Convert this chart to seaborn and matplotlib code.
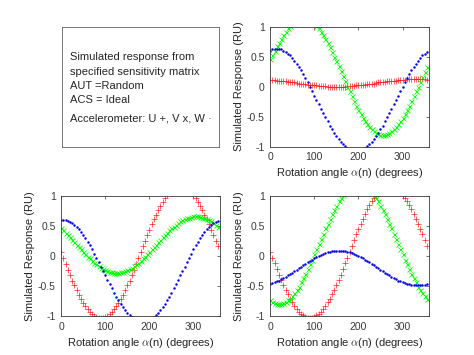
import numpy as np
import seaborn as sns
import matplotlib
matplotlib.use("Agg")
import matplotlib.pyplot as plt
from matplotlib.ticker import FormatStrFormatter

# rotation angle of each sample (degrees)
angle = np.arange(0, 360, 5)

# top right panel: U (red +), V (green x), W (blue .)
tr_u = [0.11, 0.11, 0.11, 0.10, 0.10, 0.09, 0.09, 0.09, 0.08, 0.08, 0.07, 0.07, 0.06, 0.05, 0.05, 0.04, 0.04, 0.03, 0.03, 0.03,
        0.02, 0.02, 0.01, 0.01, 0.01, 0.01, 0.00, 0.00, 0.00, 0.00,
        0.00, 0.00, 0.00, 0.00, 0.00, 0.01, 0.01, 0.01, 0.01, 0.02,
        0.02, 0.03, 0.03, 0.03, 0.04, 0.04, 0.05, 0.05, 0.06, 0.07,
        0.07, 0.08, 0.08, 0.09, 0.09, 0.09, 0.10, 0.10, 0.11, 0.11,
        0.11, 0.11, 0.12, 0.12, 0.12, 0.12, 0.12, 0.12, 0.12, 0.12,
        0.12, 0.11]
tr_v = [0.46, 0.53, 0.60, 0.67, 0.73, 0.79, 0.86, 0.91, 0.97, 1.01, 1.05, 1.08, 1.11, 1.13, 1.14, 1.14, 1.14, 1.13, 1.11, 1.08,
        1.05, 1.01, 0.97, 0.91, 0.86, 0.79, 0.73, 0.66, 0.58, 0.50,
        0.42, 0.34, 0.26, 0.17, 0.09, 0.00, -0.08, -0.16, -0.24, -0.32,
        -0.39, -0.45, -0.52, -0.57, -0.63, -0.67, -0.71, -0.74, -0.77, -0.79,
        -0.80, -0.80, -0.80, -0.79, -0.77, -0.74, -0.71, -0.67, -0.63, -0.57,
        -0.52, -0.45, -0.39, -0.32, -0.24, -0.16, -0.08, 0.00, 0.08, 0.16,
        0.24, 0.32]
tr_w = [0.60, 0.62, 0.63, 0.63, 0.63, 0.62, 0.60, 0.58, 0.55, 0.52, 0.48, 0.43, 0.38, 0.33, 0.27, 0.21, 0.14, 0.07, 0.00, -0.07,
        -0.15, -0.22, -0.29, -0.37, -0.44, -0.51, -0.58, -0.65, -0.71, -0.77,
        -0.82, -0.87, -0.92, -0.96, -0.99, -1.02, -1.04, -1.06, -1.07, -1.07,
        -1.07, -1.06, -1.04, -1.02, -0.99, -0.96, -0.92, -0.87, -0.82, -0.77,
        -0.71, -0.65, -0.58, -0.51, -0.44, -0.37, -0.29, -0.22, -0.15, -0.07,
        0.00, 0.07, 0.14, 0.21, 0.27, 0.33, 0.38, 0.43, 0.48, 0.52,
        0.55, 0.58]

# bottom left panel
bl_u = [0.06, -0.04, -0.13, -0.23, -0.32, -0.41, -0.49, -0.57, -0.65, -0.72, -0.78, -0.84, -0.89, -0.94, -0.97, -1.00, -1.02, -1.04, -1.04, -1.04,
        -1.02, -1.00, -0.97, -0.94, -0.89, -0.84, -0.78, -0.72, -0.65, -0.57,
        -0.49, -0.41, -0.32, -0.23, -0.13, -0.04, 0.06, 0.16, 0.25, 0.35,
        0.44, 0.53, 0.61, 0.69, 0.77, 0.84, 0.90, 0.96, 1.01, 1.06,
        1.09, 1.12, 1.14, 1.16, 1.16, 1.16, 1.14, 1.12, 1.09, 1.06,
        1.01, 0.96, 0.90, 0.84, 0.77, 0.69, 0.61, 0.53, 0.44, 0.35,
        0.25, 0.16]
bl_v = [0.46, 0.43, 0.39, 0.35, 0.31, 0.27, 0.23, 0.19, 0.15, 0.11, 0.07, 0.03, -0.01, -0.04, -0.08, -0.11, -0.14, -0.17, -0.20, -0.22,
        -0.24, -0.25, -0.26, -0.27, -0.28, -0.28, -0.28, -0.27, -0.26, -0.25,
        -0.24, -0.22, -0.20, -0.17, -0.14, -0.11, -0.08, -0.04, -0.01, 0.03,
        0.07, 0.11, 0.15, 0.19, 0.23, 0.27, 0.31, 0.35, 0.39, 0.43,
        0.46, 0.49, 0.52, 0.55, 0.58, 0.60, 0.62, 0.63, 0.64, 0.65,
        0.66, 0.66, 0.66, 0.65, 0.64, 0.63, 0.62, 0.60, 0.58, 0.55,
        0.52, 0.49]
bl_w = [0.60, 0.60, 0.60, 0.59, 0.57, 0.55, 0.52, 0.49, 0.45, 0.40, 0.35, 0.30, 0.24, 0.18, 0.11, 0.04, -0.03, -0.10, -0.18, -0.25,
        -0.32, -0.40, -0.47, -0.54, -0.61, -0.68, -0.74, -0.80, -0.85, -0.90,
        -0.95, -0.99, -1.02, -1.05, -1.07, -1.09, -1.10, -1.10, -1.10, -1.09,
        -1.07, -1.05, -1.02, -0.99, -0.95, -0.90, -0.85, -0.80, -0.74, -0.68,
        -0.61, -0.54, -0.47, -0.40, -0.32, -0.25, -0.18, -0.10, -0.03, 0.04,
        0.11, 0.18, 0.24, 0.30, 0.35, 0.40, 0.45, 0.49, 0.52, 0.55,
        0.57, 0.59]

# bottom right panel
br_u = [0.07, -0.03, -0.12, -0.22, -0.31, -0.40, -0.48, -0.56, -0.64, -0.71, -0.77, -0.83, -0.88, -0.93, -0.96, -0.99, -1.01, -1.03, -1.03, -1.03,
        -1.01, -0.99, -0.96, -0.93, -0.88, -0.83, -0.77, -0.71, -0.64, -0.56,
        -0.48, -0.40, -0.31, -0.22, -0.12, -0.03, 0.07, 0.17, 0.26, 0.36,
        0.45, 0.54, 0.62, 0.70, 0.78, 0.85, 0.91, 0.97, 1.02, 1.07,
        1.10, 1.13, 1.15, 1.17, 1.17, 1.17, 1.15, 1.13, 1.10, 1.07,
        1.02, 0.97, 0.91, 0.85, 0.78, 0.70, 0.62, 0.54, 0.45, 0.36,
        0.26, 0.17]
br_v = [-0.74, -0.77, -0.78, -0.80, -0.80, -0.80, -0.78, -0.77, -0.74, -0.71, -0.67, -0.62, -0.57, -0.51, -0.44, -0.37, -0.30, -0.22, -0.14, -0.06,
        0.03, 0.11, 0.20, 0.29, 0.37, 0.46, 0.54, 0.62, 0.70, 0.77,
        0.84, 0.91, 0.97, 1.02, 1.07, 1.11, 1.14, 1.17, 1.18, 1.20,
        1.20, 1.20, 1.18, 1.17, 1.14, 1.11, 1.07, 1.02, 0.97, 0.91,
        0.84, 0.77, 0.70, 0.62, 0.54, 0.46, 0.37, 0.29, 0.20, 0.11,
        0.03, -0.06, -0.14, -0.22, -0.30, -0.37, -0.44, -0.51, -0.57, -0.62,
        -0.67, -0.71]
br_w = [-0.46, -0.45, -0.44, -0.42, -0.41, -0.39, -0.37, -0.35, -0.32, -0.30, -0.28, -0.25, -0.23, -0.20, -0.18, -0.15, -0.13, -0.10, -0.08, -0.06,
        -0.03, -0.01, 0.00, 0.02, 0.04, 0.05, 0.06, 0.07, 0.08, 0.09,
        0.09, 0.09, 0.09, 0.09, 0.08, 0.07, 0.06, 0.05, 0.04, 0.02,
        0.00, -0.01, -0.03, -0.06, -0.08, -0.10, -0.13, -0.15, -0.18, -0.20,
        -0.23, -0.25, -0.28, -0.30, -0.32, -0.35, -0.37, -0.39, -0.41, -0.42,
        -0.44, -0.45, -0.46, -0.47, -0.48, -0.49, -0.49, -0.49, -0.49, -0.49,
        -0.48, -0.47]

x_ticks = [0, 100, 200, 300]
y_ticks = [-1, -0.5, 0, 0.5, 1]
info_lines = ["Simulated response from", "specified sensitivity matrix",
              "AUT =Random", "ACS = Ideal"]
info_last = "Accelerometer: U +, V x, W \u00b7"

sns.set_style("white")
plt.rcParams["font.family"] = ["Liberation Sans", "DejaVu Sans"]
plt.rcParams["mathtext.fontset"] = "cm"
plt.rcParams["axes.unicode_minus"] = False

edge = "#3a3a3a"


def draw_panel(ax, u, v, w):
    sns.lineplot(x=angle, y=u, ax=ax, linestyle="", marker="+", markersize=5,
                 color="#ff2020", markeredgecolor="#ff2020", markeredgewidth=0.5)
    sns.lineplot(x=angle, y=v, ax=ax, linestyle="", marker="x", markersize=3.6,
                 color="#00ff00", markeredgecolor="#00ff00", markeredgewidth=0.55)
    sns.lineplot(x=angle, y=w, ax=ax, linestyle="", marker=".", markersize=2.8,
                 color="#0000ee", markeredgecolor="#0000ee", markerfacecolor="#0000ee",
                 markeredgewidth=0.3)
    ax.set_xlim(0, 360)
    ax.set_ylim(-1, 1)
    ax.set_xticks(x_ticks)
    ax.set_yticks(y_ticks)
    ax.yaxis.set_major_formatter(FormatStrFormatter("%g"))
    ax.tick_params(direction="in", length=2.5, width=0.5, top=True, right=True,
                   labelsize=7.5, colors=edge, pad=4)
    for s in ax.spines.values():
        s.set_color(edge)
        s.set_linewidth(0.6)
    ax.set_xlabel(r"Rotation angle $\alpha$(n) (degrees)", fontsize=8, labelpad=3)
    ax.set_ylabel("Simulated Response (RU)", fontsize=8, labelpad=2)


fig = plt.figure(figsize=(4.74, 3.55), dpi=100)
ax_info = fig.add_axes([0.130, 0.587, 0.333, 0.338])
ax_tr = fig.add_axes([0.570, 0.587, 0.335, 0.338])
ax_bl = fig.add_axes([0.129, 0.110, 0.335, 0.338])
ax_br = fig.add_axes([0.570, 0.110, 0.335, 0.338])

ax_info.set_xticks([])
ax_info.set_yticks([])
for s in ax_info.spines.values():
    s.set_color("#606060")
    s.set_linewidth(0.6)
for i, line in enumerate(info_lines):
    ax_info.text(0.053, [0.722, 0.598, 0.478, 0.362][i], line, fontsize=8,
                 va="baseline", transform=ax_info.transAxes)
ax_info.text(0.053, 0.208, info_last, fontsize=8, va="baseline",
             transform=ax_info.transAxes, clip_on=True)

draw_panel(ax_tr, tr_u, tr_v, tr_w)
draw_panel(ax_bl, bl_u, bl_v, bl_w)
draw_panel(ax_br, br_u, br_v, br_w)

fig.savefig("out.png", dpi=100)
